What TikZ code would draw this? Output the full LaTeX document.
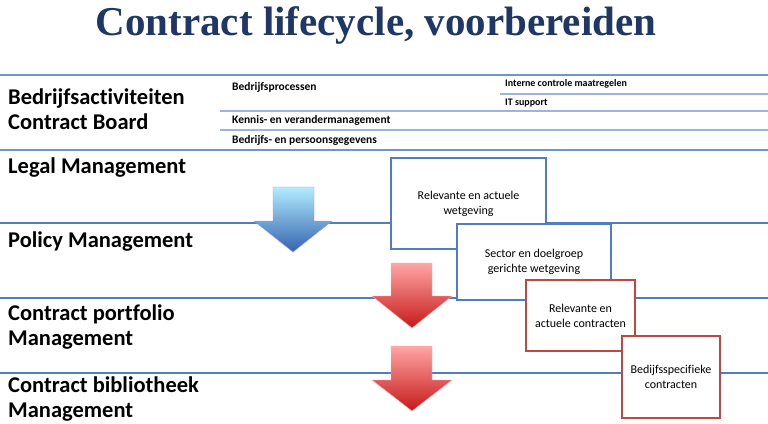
\documentclass[tikz,border=0pt]{standalone}
\usepackage{fontspec}
\setmainfont{Carlito}[Ligatures=NoCommon]
\newfontfamily\titlefont{Liberation Serif}
\begin{document}
\begin{tikzpicture}[x=1pt,y=-1pt,
  lab/.style={anchor=west, font=\fontsize{22.5}{24.5}\selectfont\bfseries, align=left, inner sep=0},
  sm/.style={anchor=west, font=\fontsize{11.5}{13}\selectfont\bfseries, inner sep=0},
  box/.style={draw=#1, line width=1.2pt, fill=white, align=center, font=\fontsize{12}{15}\selectfont},
]
\definecolor{lblue}{RGB}{110,150,205}
\definecolor{bbox}{RGB}{80,125,190}
\definecolor{rbox}{RGB}{195,70,70}
\definecolor{ttl}{RGB}{30,55,100}
\useasboundingbox (0,0) rectangle (768,423);
\node[font=\titlefont\fontsize{41}{43}\selectfont\bfseries, text=ttl, inner sep=0] (title) at (376,25) {Contract lifecycle, voorbereiden};
% lines
\draw[lblue, line width=2pt] (0,75) -- (768,75);
\draw[lblue, line width=2pt] (0,150) -- (768,150);
\draw[lblue!70, line width=1.2pt] (500,94) -- (768,94);
\draw[lblue!70, line width=1.2pt] (220,111) -- (768,111);
\draw[lblue!70, line width=1.2pt] (220,130) -- (768,130);
\foreach \y in {223,298,373} \draw[bbox, line width=1.2pt] (0,\y) -- (768,\y);
% labels
\node[lab] (l1) at (8,109) {Bedrijfsactiviteiten\\Contract Board};
\node[lab] (l2) at (8,168) {Legal Management};
\node[lab] (l3) at (8,242) {Policy Management};
\node[lab] (l4) at (8,327) {Contract portfolio\\Management};
\node[lab] (l5) at (8,399) {Contract bibliotheek\\Management};
\node[sm] (s1) at (232,87) {Bedrijfsprocessen};
\node[sm] (s2) at (505,84) {\fontsize{10}{11}\selectfont Interne controle maatregelen};
\node[sm] (s3) at (505,103) {\fontsize{10}{11}\selectfont IT support};
\node[sm] (s4) at (232,120) {Kennis- en verandermanagement};
\node[sm] (s5) at (232,140) {Bedrijfs- en persoonsgegevens};
% arrows
\shade[top color=blue!25!cyan!30, bottom color=blue!60!cyan!60!black!80, draw=blue!40!white]
  (273,187) -- (314,187) -- (314,221) -- (332,221) -- (293,252) -- (254,221) -- (273,221) -- cycle;
\foreach \t/\h/\b in {263/296/328, 346/380/411}
  \shade[top color=red!35, bottom color=red!75!black!90, draw=red!30]
  (391,\t) -- (432,\t) -- (432,\h) -- (452,\h) -- (412,\b) -- (372,\h) -- (391,\h) -- cycle;
% boxes
\node[box=bbox, minimum width=155pt, minimum height=91pt] (b1) at (468.5,203.5) {Relevante en actuele\\wetgeving};
\node[box=bbox, minimum width=154pt, minimum height=76pt] (b2) at (534,262) {Sector en doelgroep\\gerichte wetgeving};
\node[box=rbox, minimum width=109pt, minimum height=71pt] (b3) at (580.5,315.5) {Relevante en\\actuele contracten};
\node[box=rbox, minimum width=98pt, minimum height=82pt] (b4) at (671,377) {Bedijfsspecifieke\\contracten};
\end{tikzpicture}
\end{document}
